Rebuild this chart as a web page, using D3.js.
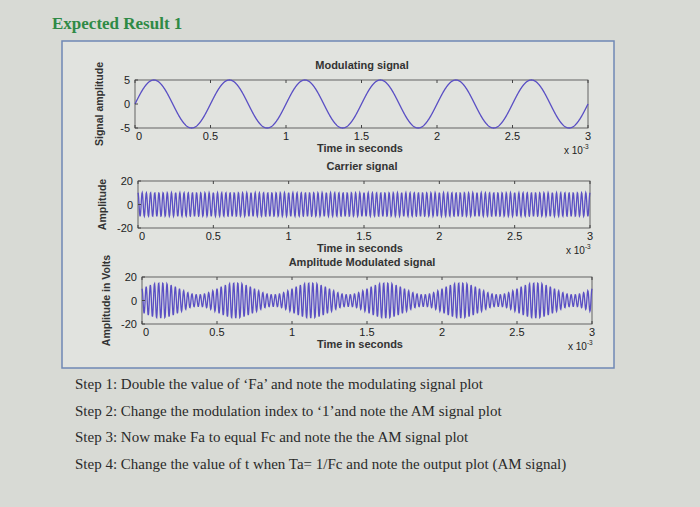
<!DOCTYPE html>
<html><head><meta charset="utf-8">
<script src="https://cdn.jsdelivr.net/npm/d3@7"></script>
<style>
body{margin:0;background:#d8dad5;}
svg{display:block;}
</style></head>
<body><div id="chart"></div>
<script>
const width = 700, height = 507;

// Signal parameters
const panelTitles = ["Modulating signal", "Carrier signal", "Amplitude Modulated signal"];
const yLabels = ["Signal amplitude", "Amplitude", "Amplitude in Volts"];
const yTicks = [[-5, 0, 5], [-20, 0, 20], [-20, 0, 20]];
const xTicks = [0, 0.5, 1, 1.5, 2, 2.5, 3];          // ms (x 10^-3 s)
const modAmp = 5, modFreq = 2;                       // cycles per ms
const carAmp = 10, carFreq = 36;                     // cycles per ms
const timeRange = [0, 3];
const steps = [
  "Step 1: Double the value of \u2018Fa\u2019 and note the modulating signal plot",
  "Step 2: Change the modulation index to \u20181\u2019and note the AM signal plot",
  "Step 3: Now make Fa to equal Fc and note the the AM signal plot",
  "Step 4: Change the value of t when Ta= 1/Fc and note the output plot (AM signal)"
];

const t = d3.range(0, 3.0001, 0.002);
const signals = [
  t.map(v => [v, modAmp * Math.sin(2 * Math.PI * modFreq * v)]),
  t.map(v => [v, carAmp * Math.cos(2 * Math.PI * carFreq * v)]),
  t.map(v => [v, (carAmp + modAmp * Math.sin(2 * Math.PI * modFreq * v)) * Math.cos(2 * Math.PI * carFreq * v)])
];

const svg = d3.select("#chart").append("svg").attr("width", width).attr("height", height);

svg.append("text").attr("x", 52).attr("y", 29).text("Expected Result 1")
  .attr("font-family", "Liberation Serif").attr("font-weight", "bold").attr("font-size", 17).attr("fill", "#2f8a45");

svg.append("rect").attr("x", 62).attr("y", 41).attr("width", 552).attr("height", 327)
  .attr("fill", "#e1e3df").attr("stroke", "#6f88b5").attr("stroke-width", 1.5);

const panels = [
  {x0: 135, x1: 588, top: 80, bottom: 128},
  {x0: 138, x1: 590, top: 181, bottom: 228},
  {x0: 142, x1: 592, top: 277, bottom: 324}
];

panels.forEach((p, i) => {
  const x = d3.scaleLinear().domain(timeRange).range([p.x0, p.x1]);
  const y = d3.scaleLinear().domain([yTicks[i][0], yTicks[i][2]]).range([p.bottom, p.top]);
  const g = svg.append("g").attr("font-family", "Liberation Sans").attr("fill", "#222");

  g.append("rect").attr("x", p.x0).attr("y", p.top).attr("width", p.x1 - p.x0).attr("height", p.bottom - p.top)
    .attr("fill", "none").attr("stroke", "#444").attr("stroke-width", 0.8);

  g.append("path").datum(signals[i])
    .attr("d", d3.line().x(d => x(d[0])).y(d => y(d[1])))
    .attr("fill", "none").attr("stroke", "#5a4fc4").attr("stroke-width", 1.3);

  xTicks.forEach(v => {
    g.append("line").attr("x1", x(v)).attr("x2", x(v)).attr("y1", p.bottom).attr("y2", p.bottom - 3).attr("stroke", "#444");
    g.append("line").attr("x1", x(v)).attr("x2", x(v)).attr("y1", p.top).attr("y2", p.top + 3).attr("stroke", "#444");
    g.append("text").attr("x", x(v) + (v === 0 ? 4 : 0)).attr("y", p.bottom + 12).attr("text-anchor", "middle")
      .attr("font-size", 11).text(v);
  });
  yTicks[i].forEach(v => {
    g.append("line").attr("x1", p.x0).attr("x2", p.x0 + 3).attr("y1", y(v)).attr("y2", y(v)).attr("stroke", "#444");
    g.append("text").attr("x", p.x0 - 5).attr("y", y(v) + 4).attr("text-anchor", "end")
      .attr("font-size", 11).text(v);
  });

  g.append("text").attr("x", 362).attr("y", p.top - 11).attr("text-anchor", "middle")
    .attr("font-size", 11).attr("font-weight", "bold").attr("fill", "#333").text(panelTitles[i]);
  g.append("text").attr("x", 360).attr("y", p.bottom + 24).attr("text-anchor", "middle")
    .attr("font-size", 11).attr("font-weight", "bold").attr("fill", "#333").text("Time in seconds");
  const ex = g.append("text").attr("x", p.x1 - 24).attr("y", p.bottom + 26).attr("font-size", 10);
  ex.append("tspan").text("x 10");
  ex.append("tspan").attr("dy", -5).attr("font-size", 6.5).text("-3");
  g.append("text").attr("transform", `translate(${p.x0 - 32},${(p.top + p.bottom) / 2}) rotate(-90)`)
    .attr("text-anchor", "middle").attr("font-size", 10.5).attr("font-weight", "bold").attr("fill", "#333")
    .text(yLabels[i]);
});

svg.selectAll(".step").data(steps).enter().append("text")
  .attr("x", 75).attr("y", (d, i) => 389 + i * 26.5)
  .attr("font-family", "Liberation Serif").attr("font-size", 15).attr("fill", "#2a2a2a")
  .text(d => d);
</script>
</body></html>
